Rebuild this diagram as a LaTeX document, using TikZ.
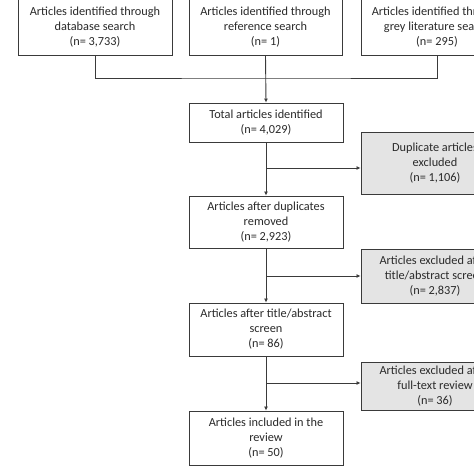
\documentclass[tikz,border=0pt]{standalone}
\usepackage{fontspec}
\setmainfont{Carlito}
\usetikzlibrary{arrows.meta,positioning}
\definecolor{boxline}{HTML}{3A3A3A}
\definecolor{boxgrey}{HTML}{E4E4E4}
\definecolor{boxtext}{HTML}{2A2A2A}
\tikzset{
	flowbox/.style={draw=boxline, line width=0.9pt, fill=white, text=boxtext, align=center,
		font=\fontsize{12.3}{15}\selectfont, inner sep=0pt},
	greybox/.style={flowbox, fill=boxgrey},
	flowline/.style={draw=boxline, line width=0.9pt},
	flowarrow/.style={flowline, -{Latex[length=4pt,width=4pt]}},
}
\begin{document}
\begin{tikzpicture}[x=1pt,y=-1pt]
	\useasboundingbox (0,0) rectangle (474,474);
	\clip (0,0) rectangle (474,474);
	% sources
	\node [flowbox, minimum width=154pt, minimum height=56pt] (src1) at (95,27) {Articles identified through\\database search\\(n= 3,733)};
	\node [flowbox, minimum width=153pt, minimum height=56pt] (src2) at (265.5,27) {Articles identified through\\reference search\\(n= 1)};
	\node [flowbox, minimum width=152pt, minimum height=56pt] (src3) at (437,27) {Articles identified through\\grey literature search\\(n= 295)};
	% main column
	\node [flowbox, minimum width=154pt, minimum height=39pt] (total) at (266,122.5) {Total articles identified\\(n= 4,029)};
	\node [flowbox, minimum width=154pt, minimum height=52pt] (nodup) at (266,222) {Articles after duplicates\\removed\\(n= 2,923)};
	\node [flowbox, minimum width=154pt, minimum height=53pt] (screen) at (266,329.5) {Articles after title/abstract\\screen\\(n= 86)};
	\node [flowbox, minimum width=154pt, minimum height=54pt] (incl) at (266,438) {Articles included in the\\review\\(n= 50)};
	% exclusions
	\node [greybox, minimum width=148pt, minimum height=62pt] (dup) at (435,163) {Duplicate articles\\excluded\\(n= 1,106)};
	\node [greybox, minimum width=148pt, minimum height=54pt] (exta) at (435,276) {Articles excluded after\\title/abstract screen\\(n= 2,837)};
	\node [greybox, minimum width=148pt, minimum height=48pt] (exft) at (435,386) {Articles excluded after\\full-text review\\(n= 36)};
	% connectors
	\coordinate (join) at (266,78);
	\draw [flowline] (src1.south) |- (join) -| (src3.south);
	\draw [flowarrow] (src2.south) -- (total.north);
	\draw [flowarrow] (total.south) -- (nodup.north);
	\draw [flowarrow] (nodup.south) -- (screen.north);
	\draw [flowarrow] (screen.south) -- (incl.north);
	\coordinate (b1) at (266,168);
	\coordinate (b2) at (266,276);
	\coordinate (b3) at (266,383);
	\draw [flowarrow] (b1) -- (dup.west |- b1);
	\draw [flowarrow] (b2) -- (exta.west |- b2);
	\draw [flowarrow] (b3) -- (exft.west |- b3);
\end{tikzpicture}
\end{document}
